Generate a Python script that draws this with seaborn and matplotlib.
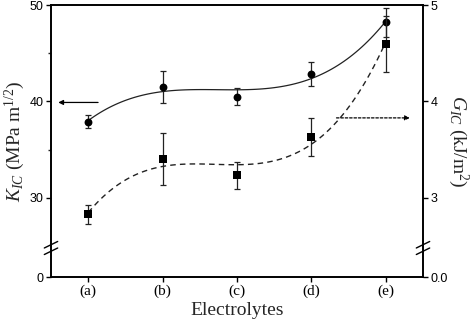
import numpy as np
import pandas as pd
import matplotlib
matplotlib.use("Agg")
import matplotlib.pyplot as plt
import seaborn as sns

categories = ["(a)", "(b)", "(c)", "(d)", "(e)"]
k_ic = [37.9, 41.5, 40.5, 42.85, 48.2]
k_err = [0.67, 1.7, 0.9, 1.2, 1.47]
g_ic = [2.83, 3.40, 3.235, 3.63, 4.60]
g_err = [0.10, 0.27, 0.14, 0.20, 0.29]
left_ticks = [21.81, 30, 40, 50]
left_labels = ["0", "30", "40", "50"]
right_ticks = [2.181, 3, 4, 5]
right_labels = ["0.0", "3", "4", "5"]

sns.set_theme(style="ticks")
plt.rcParams["font.family"] = ["Liberation Sans", "DejaVu Sans"]
plt.rcParams["mathtext.fontset"] = "custom"
plt.rcParams["mathtext.it"] = "Liberation Serif:italic"
plt.rcParams["mathtext.rm"] = "Liberation Serif"
plt.rcParams["mathtext.default"] = "it"

df = pd.DataFrame({"pos": np.arange(len(categories)), "cat": categories,
                   "k": k_ic, "kerr": k_err, "g": g_ic, "gerr": g_err})

fig = plt.figure(figsize=(4.74, 3.23), dpi=100)
ax = fig.add_axes([51 / 474, 1 - 277 / 323, (423 - 51) / 474, (277 - 5) / 323])
ax2 = ax.twinx()

# K_IC (left)
sns.regplot(data=df, x="pos", y="k", order=3, ci=None, scatter=False, ax=ax,
            line_kws=dict(color="#222222", lw=0.9, ls="-"), truncate=True)
ax.errorbar(df["pos"], df["k"], yerr=df["kerr"], fmt="none", ecolor="#222222",
            elinewidth=0.9, capsize=2.3, capthick=0.9)
sns.scatterplot(data=df, x="pos", y="k", ax=ax, marker="o", s=32, color="black",
                edgecolor="black", linewidth=0, zorder=5)

# G_IC (right)
sns.regplot(data=df, x="pos", y="g", order=3, ci=None, scatter=False, ax=ax2,
            line_kws=dict(color="#222222", lw=1.0, ls=(0, (4, 3))), truncate=True)
ax2.errorbar(df["pos"], df["g"], yerr=df["gerr"], fmt="none", ecolor="#222222",
             elinewidth=0.9, capsize=2.3, capthick=0.9)
sns.scatterplot(data=df, x="pos", y="g", ax=ax2, marker="s", s=26, color="black",
                edgecolor="black", linewidth=0, zorder=5)

ax.set_xlim(-0.5, 4.5)
ax.set_ylim(21.81, 50)
ax2.set_ylim(2.181, 5)

ax.set_xticks(range(len(categories)))
ax.set_xticklabels(categories, fontfamily="Liberation Serif", fontsize=11)
ax.set_yticks(left_ticks)
ax.set_yticklabels(left_labels, fontsize=9)
ax.set_yticks([35, 45], minor=True)
ax2.set_yticks(right_ticks)
ax2.set_yticklabels(right_labels, fontsize=9)

for a in (ax, ax2):
    a.tick_params(axis="both", which="major", direction="out", length=3.5, width=1, pad=2, colors="black")
    a.tick_params(axis="both", which="minor", direction="out", length=2, width=1)
    for sp in a.spines.values():
        sp.set_linewidth(1.2)
        sp.set_color("black")
        sp.set_visible(True)

ax.set_xlabel("Electrolytes", fontfamily="Liberation Serif", fontsize=14, labelpad=3)
ax.set_ylabel(r"$K_{IC}$ (MPa m$^{\mathrm{1/2}}$)", fontfamily="Liberation Serif", fontsize=14, labelpad=2)
ax2.set_ylabel(r"$G_{IC}$ (kJ/m$^{\mathrm{2}}$)", fontfamily="Liberation Serif", fontsize=14,
               rotation=270, labelpad=16)

# axis break marks
ybreak = (248 - 5) / 272
for xs in (0, 1):
    for dy in (-0.012, 0.012):
        ax.plot([xs - 0.018, xs + 0.018], [1 - ybreak + dy - 0.012, 1 - ybreak + dy + 0.012],
                transform=ax.transAxes, color="black", lw=1.0, clip_on=False, zorder=10)

# indicator arrows
ax.annotate("", xy=(-0.44, 39.9), xytext=(0.17, 39.9),
            arrowprops=dict(arrowstyle="-|>", color="black", lw=0.9, mutation_scale=7))
ax2.annotate("", xy=(4.36, 3.83), xytext=(3.30, 3.83),
             arrowprops=dict(arrowstyle="-|>", color="black", lw=0.9, ls=(0, (2, 1.5)),
                             mutation_scale=7))

fig.savefig("out.png", dpi=100)
